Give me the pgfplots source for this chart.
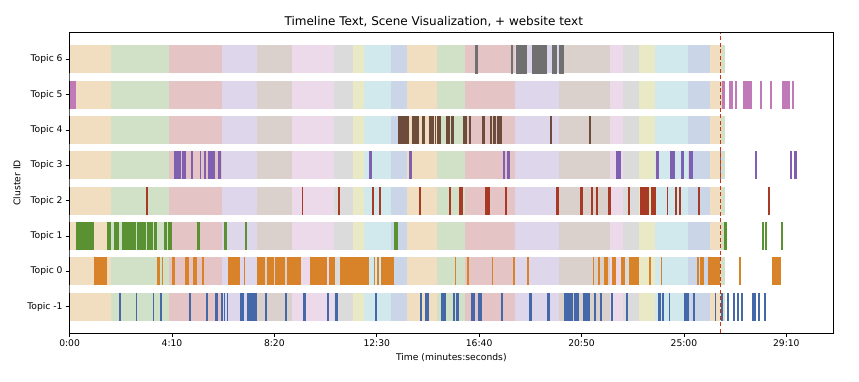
\documentclass[border=0pt]{standalone}
\usepackage{pgfplots}
\pgfplotsset{compat=1.18}
\usepackage{fontspec}
\setmainfont{DejaVu Sans}
% background scene colours
\definecolor{bgTan}{RGB}{241,221,192}
\definecolor{bgGreen}{RGB}{209,225,200}
\definecolor{bgRed}{RGB}{228,196,197}
\definecolor{bgLav}{RGB}{222,214,234}
\definecolor{bgTaupe}{RGB}{218,208,204}
\definecolor{bgPink}{RGB}{236,217,233}
\definecolor{bgGrey}{RGB}{219,219,219}
\definecolor{bgYel}{RGB}{233,233,198}
\definecolor{bgCyan}{RGB}{209,232,237}
\definecolor{bgSteel}{RGB}{202,213,231}
% topic colours
\definecolor{tM1}{RGB}{69,104,168}
\definecolor{t0}{RGB}{216,130,42}
\definecolor{t1}{RGB}{90,145,50}
\definecolor{t2}{RGB}{168,58,37}
\definecolor{t3}{RGB}{126,95,176}
\definecolor{t4}{RGB}{110,76,60}
\definecolor{t5}{RGB}{192,122,184}
\definecolor{t6}{RGB}{112,112,112}
\definecolor{vred}{RGB}{205,50,20}
\begin{document}
\begin{tikzpicture}
\begin{axis}[
  scale only axis,
  width=763.4bp, height=300.3bp,
  xmin=0, xmax=1864,
  ymin=-1.745, ymax=6.755,
  xtick={0,250,500,750,1000,1250,1500,1750},
  xticklabels={0:00,4:10,8:20,12:30,16:40,20:50,25:00,29:10},
  ytick={-1,0,1,2,3,4,5,6},
  yticklabels={Topic -1,Topic 0,Topic 1,Topic 2,Topic 3,Topic 4,Topic 5,Topic 6},
  tick align=outside,
  major tick length=3.5bp,
  xtick pos=left, ytick pos=left,
  tick style={black, line width=0.6bp},
  axis line style={line width=0.8bp},
  ticklabel style={font=\fontsize{9.2bp}{11bp}\selectfont},
  /pgf/number format/assume math mode=true,
  title={Timeline Text, Scene Visualization, + website text},
  title style={font=\fontsize{12bp}{14bp}\selectfont, at={(0.477,1)}, yshift=-4bp},
  xlabel={Time (minutes:seconds)},
  ylabel={Cluster ID},
  label style={font=\fontsize{9.2bp}{11bp}\selectfont},
  unbounded coords=jump,
]
% ---------- background scenes (y from -1.4 to 6.4)
\addplot[bgTan, line width=275.6bp, line cap=butt] coordinates {(0,2.5)(101,2.5)(nan,nan)(824,2.5)(897,2.5)(nan,nan)(1564,2.5)(1590,2.5)};
\addplot[bgGreen, line width=275.6bp, line cap=butt] coordinates {(101,2.5)(243,2.5)(nan,nan)(897,2.5)(965,2.5)(nan,nan)(1590,2.5)(1600,2.5)};
\addplot[bgRed, line width=275.6bp, line cap=butt] coordinates {(243,2.5)(373,2.5)(nan,nan)(965,2.5)(1087,2.5)};
\addplot[bgLav, line width=275.6bp, line cap=butt] coordinates {(373,2.5)(457,2.5)(nan,nan)(1087,2.5)(1195,2.5)};
\addplot[bgTaupe, line width=275.6bp, line cap=butt] coordinates {(457,2.5)(543,2.5)(nan,nan)(1195,2.5)(1320,2.5)};
\addplot[bgPink, line width=275.6bp, line cap=butt] coordinates {(543,2.5)(645,2.5)(nan,nan)(1320,2.5)(1351,2.5)};
\addplot[bgGrey, line width=275.6bp, line cap=butt] coordinates {(645,2.5)(692,2.5)(nan,nan)(1351,2.5)(1391,2.5)};
\addplot[bgYel, line width=275.6bp, line cap=butt] coordinates {(692,2.5)(719,2.5)(nan,nan)(1391,2.5)(1429,2.5)};
\addplot[bgCyan, line width=275.6bp, line cap=butt] coordinates {(719,2.5)(785,2.5)(nan,nan)(1429,2.5)(1510,2.5)};
\addplot[bgSteel, line width=275.6bp, line cap=butt] coordinates {(785,2.5)(824,2.5)(nan,nan)(1510,2.5)(1564,2.5)};
% white gaps between the rows
\addplot[white, line width=7.1bp, line cap=butt] coordinates {(-5,-0.5)(1610,-0.5)(nan,nan)(-5,0.5)(1610,0.5)(nan,nan)(-5,1.5)(1610,1.5)(nan,nan)(-5,2.5)(1610,2.5)(nan,nan)(-5,3.5)(1610,3.5)(nan,nan)(-5,4.5)(1610,4.5)(nan,nan)(-5,5.5)(1610,5.5)};
% ---------- Topic 6
\addplot[t6, line width=28.26bp, line cap=butt] coordinates {
(989.7,6)(997,6)(nan,nan)(1077,6)(1082,6)(nan,nan)(1090,6)(1117,6)(nan,nan)(1129,6)(1166,6)(nan,nan)(1179,6)(1190,6)(nan,nan)(1195,6)(1208,6)};
% ---------- Topic 5
\addplot[t5, line width=28.26bp, line cap=butt] coordinates {
(0,5)(15.6,5)(nan,nan)(1594,5)(1600,5)(nan,nan)(1610.6,5)(1619.6,5)(nan,nan)(1624.6,5)(1629.5,5)(nan,nan)(1644,5)(1665,5)(nan,nan)(1684.8,5)(1690.4,5)(nan,nan)(1710,5)(1715,5)(nan,nan)(1740,5)(1759.5,5)(nan,nan)(1764,5)(1769,5)};
% ---------- Topic 4
\addplot[t4, line width=28.26bp, line cap=butt] coordinates {
(801,4)(828.6,4)(nan,nan)(836,4)(852,4)(nan,nan)(860,4)(867,4)(nan,nan)(876.6,4)(889.6,4)(nan,nan)(893,4)(894.5,4)(nan,nan)(896,4)(906.7,4)(nan,nan)(919,4)(928,4)(nan,nan)(931,4)(937.7,4)(nan,nan)(960.5,4)(970,4)(nan,nan)(974,4)(980,4)(nan,nan)(1007,4)(1014,4)(nan,nan)(1026,4)(1032,4)(nan,nan)(1035,4)(1041,4)(nan,nan)(1043,4)(1055,4)(nan,nan)(1173,4)(1178,4)(nan,nan)(1269,4)(1274,4)};
% ---------- Topic 3
\addplot[t3, line width=28.26bp, line cap=butt] coordinates {
(255,3)(272,3)(nan,nan)(274,3)(283.5,3)(nan,nan)(296,3)(302,3)(nan,nan)(318,3)(321.6,3)(nan,nan)(327,3)(333,3)(nan,nan)(338,3)(356,3)(nan,nan)(362,3)(369.6,3)(nan,nan)(731,3)(737.6,3)(nan,nan)(828.6,3)(835,3)(nan,nan)(1059,3)(1063,3)(nan,nan)(1068.6,3)(1074.5,3)(nan,nan)(1334,3)(1346,3)(nan,nan)(1431.6,3)(1438,3)(nan,nan)(1465.8,3)(1477,3)(nan,nan)(1492.6,3)(1500,3)(nan,nan)(1512,3)(1522,3)(nan,nan)(1588,3)(1591,3)(nan,nan)(1674,3)(1679,3)(nan,nan)(1758.7,3)(1764,3)(nan,nan)(1769,3)(1776,3)};
% ---------- Topic 2
\addplot[t2, line width=28.26bp, line cap=butt] coordinates {
(186.5,2)(190.6,2)(nan,nan)(567.5,2)(570,2)(nan,nan)(655,2)(659.5,2)(nan,nan)(738.3,2)(742.4,2)(nan,nan)(755,2)(759.5,2)(nan,nan)(852,2)(858,2)(nan,nan)(927,2)(931,2)(nan,nan)(952,2)(960.5,2)(nan,nan)(1014,2)(1025.6,2)(nan,nan)(1062.5,2)(1068,2)(nan,nan)(1188,2)(1194,2)(nan,nan)(1246,2)(1253.6,2)(nan,nan)(1273,2)(1278,2)(nan,nan)(1284.5,2)(1290,2)(nan,nan)(1314.5,2)(1321,2)(nan,nan)(1363,2)(1367.5,2)(nan,nan)(1392.5,2)(1414.6,2)(nan,nan)(1419,2)(1431,2)(nan,nan)(1458.6,2)(1462,2)(nan,nan)(1478,2)(1483,2)(nan,nan)(1488,2)(1492.6,2)(nan,nan)(1534,2)(1539,2)(nan,nan)(1704.5,2)(1710,2)};
% ---------- Topic 1
\addplot[t1, line width=28.26bp, line cap=butt] coordinates {
(15.6,1)(59.6,1)(nan,nan)(90.5,1)(101,1)(nan,nan)(108,1)(120.3,1)(nan,nan)(127.5,1)(162,1)(nan,nan)(164.3,1)(186,1)(nan,nan)(190,1)(204,1)(nan,nan)(206,1)(213.4,1)(nan,nan)(230.5,1)(239,1)(nan,nan)(241,1)(250.7,1)(nan,nan)(310.5,1)(318,1)(nan,nan)(376,1)(378.8,1)(nan,nan)(380.5,1)(383.5,1)(nan,nan)(428,1)(434,1)(nan,nan)(792.7,1)(801.7,1)(nan,nan)(1598,1)(1605.6,1)(nan,nan)(1690,1)(1695,1)(nan,nan)(1699,1)(1704,1)(nan,nan)(1736,1)(1741,1)};
% ---------- Topic 0
\addplot[t0, line width=28.26bp, line cap=butt] coordinates {
(59.6,0)(90.5,0)(nan,nan)(212.6,0)(221.4,0)(nan,nan)(225.6,0)(228,0)(nan,nan)(250,0)(256.6,0)(nan,nan)(282.5,0)(291.5,0)(nan,nan)(302,0)(310,0)(nan,nan)(322.5,0)(328,0)(nan,nan)(386.7,0)(416,0)(nan,nan)(426,0)(428.5,0)(nan,nan)(457.5,0)(477.5,0)(nan,nan)(482,0)(498,0)(nan,nan)(501,0)(526,0)(nan,nan)(530.5,0)(564,0)(nan,nan)(587,0)(628,0)(nan,nan)(633,0)(648,0)(nan,nan)(660,0)(731,0)(nan,nan)(743,0)(746,0)(nan,nan)(750.5,0)(755,0)(nan,nan)(759.7,0)(792.7,0)(nan,nan)(941,0)(943,0)(nan,nan)(970,0)(975,0)(nan,nan)(1030.5,0)(1033.5,0)(nan,nan)(1081.7,0)(1087.5,0)(nan,nan)(1116.7,0)(1121.3,0)(nan,nan)(1278,0)(1280.5,0)(nan,nan)(1290,0)(1295,0)(nan,nan)(1305,0)(1315,0)(nan,nan)(1324.5,0)(1333.5,0)(nan,nan)(1346,0)(1356.5,0)(nan,nan)(1366.7,0)(1389.5,0)(nan,nan)(1414.6,0)(1419.5,0)(nan,nan)(1444,0)(1447,0)(nan,nan)(1532,0)(1536.5,0)(nan,nan)(1539,0)(1549,0)(nan,nan)(1558.5,0)(1588,0)(nan,nan)(1634,0)(1639,0)(nan,nan)(1715,0)(1736,0)};
% ---------- Topic -1
\addplot[tM1, line width=28.26bp, line cap=butt] coordinates {
(120,-1)(125.5,-1)(nan,nan)(161,-1)(164.5,-1)(nan,nan)(203.6,-1)(206,-1)(nan,nan)(220.7,-1)(225.6,-1)(nan,nan)(291.5,-1)(296.4,-1)(nan,nan)(333,-1)(338,-1)(nan,nan)(355,-1)(362.3,-1)(nan,nan)(370,-1)(375,-1)(nan,nan)(377.5,-1)(380.5,-1)(nan,nan)(384,-1)(386.7,-1)(nan,nan)(416,-1)(425.5,-1)(nan,nan)(433.5,-1)(457.5,-1)(nan,nan)(477,-1)(481.5,-1)(nan,nan)(527,-1)(531,-1)(nan,nan)(570,-1)(577,-1)(nan,nan)(628,-1)(632.5,-1)(nan,nan)(648.5,-1)(655.7,-1)(nan,nan)(745.6,-1)(750.3,-1)(nan,nan)(856.5,-1)(860,-1)(nan,nan)(867,-1)(876.7,-1)(nan,nan)(906.7,-1)(918,-1)(nan,nan)(937,-1)(940,-1)(nan,nan)(943,-1)(951.5,-1)(nan,nan)(979.5,-1)(989.5,-1)(nan,nan)(996.5,-1)(1007,-1)(nan,nan)(1053.5,-1)(1059,-1)(nan,nan)(1121.6,-1)(1128.5,-1)(nan,nan)(1166,-1)(1172.5,-1)(nan,nan)(1208,-1)(1229,-1)(nan,nan)(1230.7,-1)(1245,-1)(nan,nan)(1253,-1)(1269.5,-1)(nan,nan)(1280,-1)(1285,-1)(nan,nan)(1295,-1)(1300,-1)(nan,nan)(1321.5,-1)(1326,-1)(nan,nan)(1357.5,-1)(1363,-1)(nan,nan)(1436.5,-1)(1444.5,-1)(nan,nan)(1446,-1)(1451,-1)(nan,nan)(1463,-1)(1466,-1)(nan,nan)(1500,-1)(1512.5,-1)(nan,nan)(1522,-1)(1527,-1)(nan,nan)(1575.6,-1)(1578,-1)(nan,nan)(1590,-1)(1595,-1)(nan,nan)(1605,-1)(1610,-1)(nan,nan)(1620,-1)(1624.5,-1)(nan,nan)(1629.5,-1)(1634.5,-1)(nan,nan)(1639,-1)(1644,-1)(nan,nan)(1666,-1)(1675,-1)(nan,nan)(1680,-1)(1685,-1)(nan,nan)(1694.5,-1)(1699.5,-1)};
% ---------- current-time marker
\addplot[vred, line width=1.3bp, dash pattern=on 4bp off 2.5bp] coordinates {(1589.5,-1.745)(1589.5,6.755)};
\end{axis}
\path (current axis.south west) ++(-69.6bp,-49bp) rectangle ++(859bp,382bp);
\end{tikzpicture}
\end{document}
